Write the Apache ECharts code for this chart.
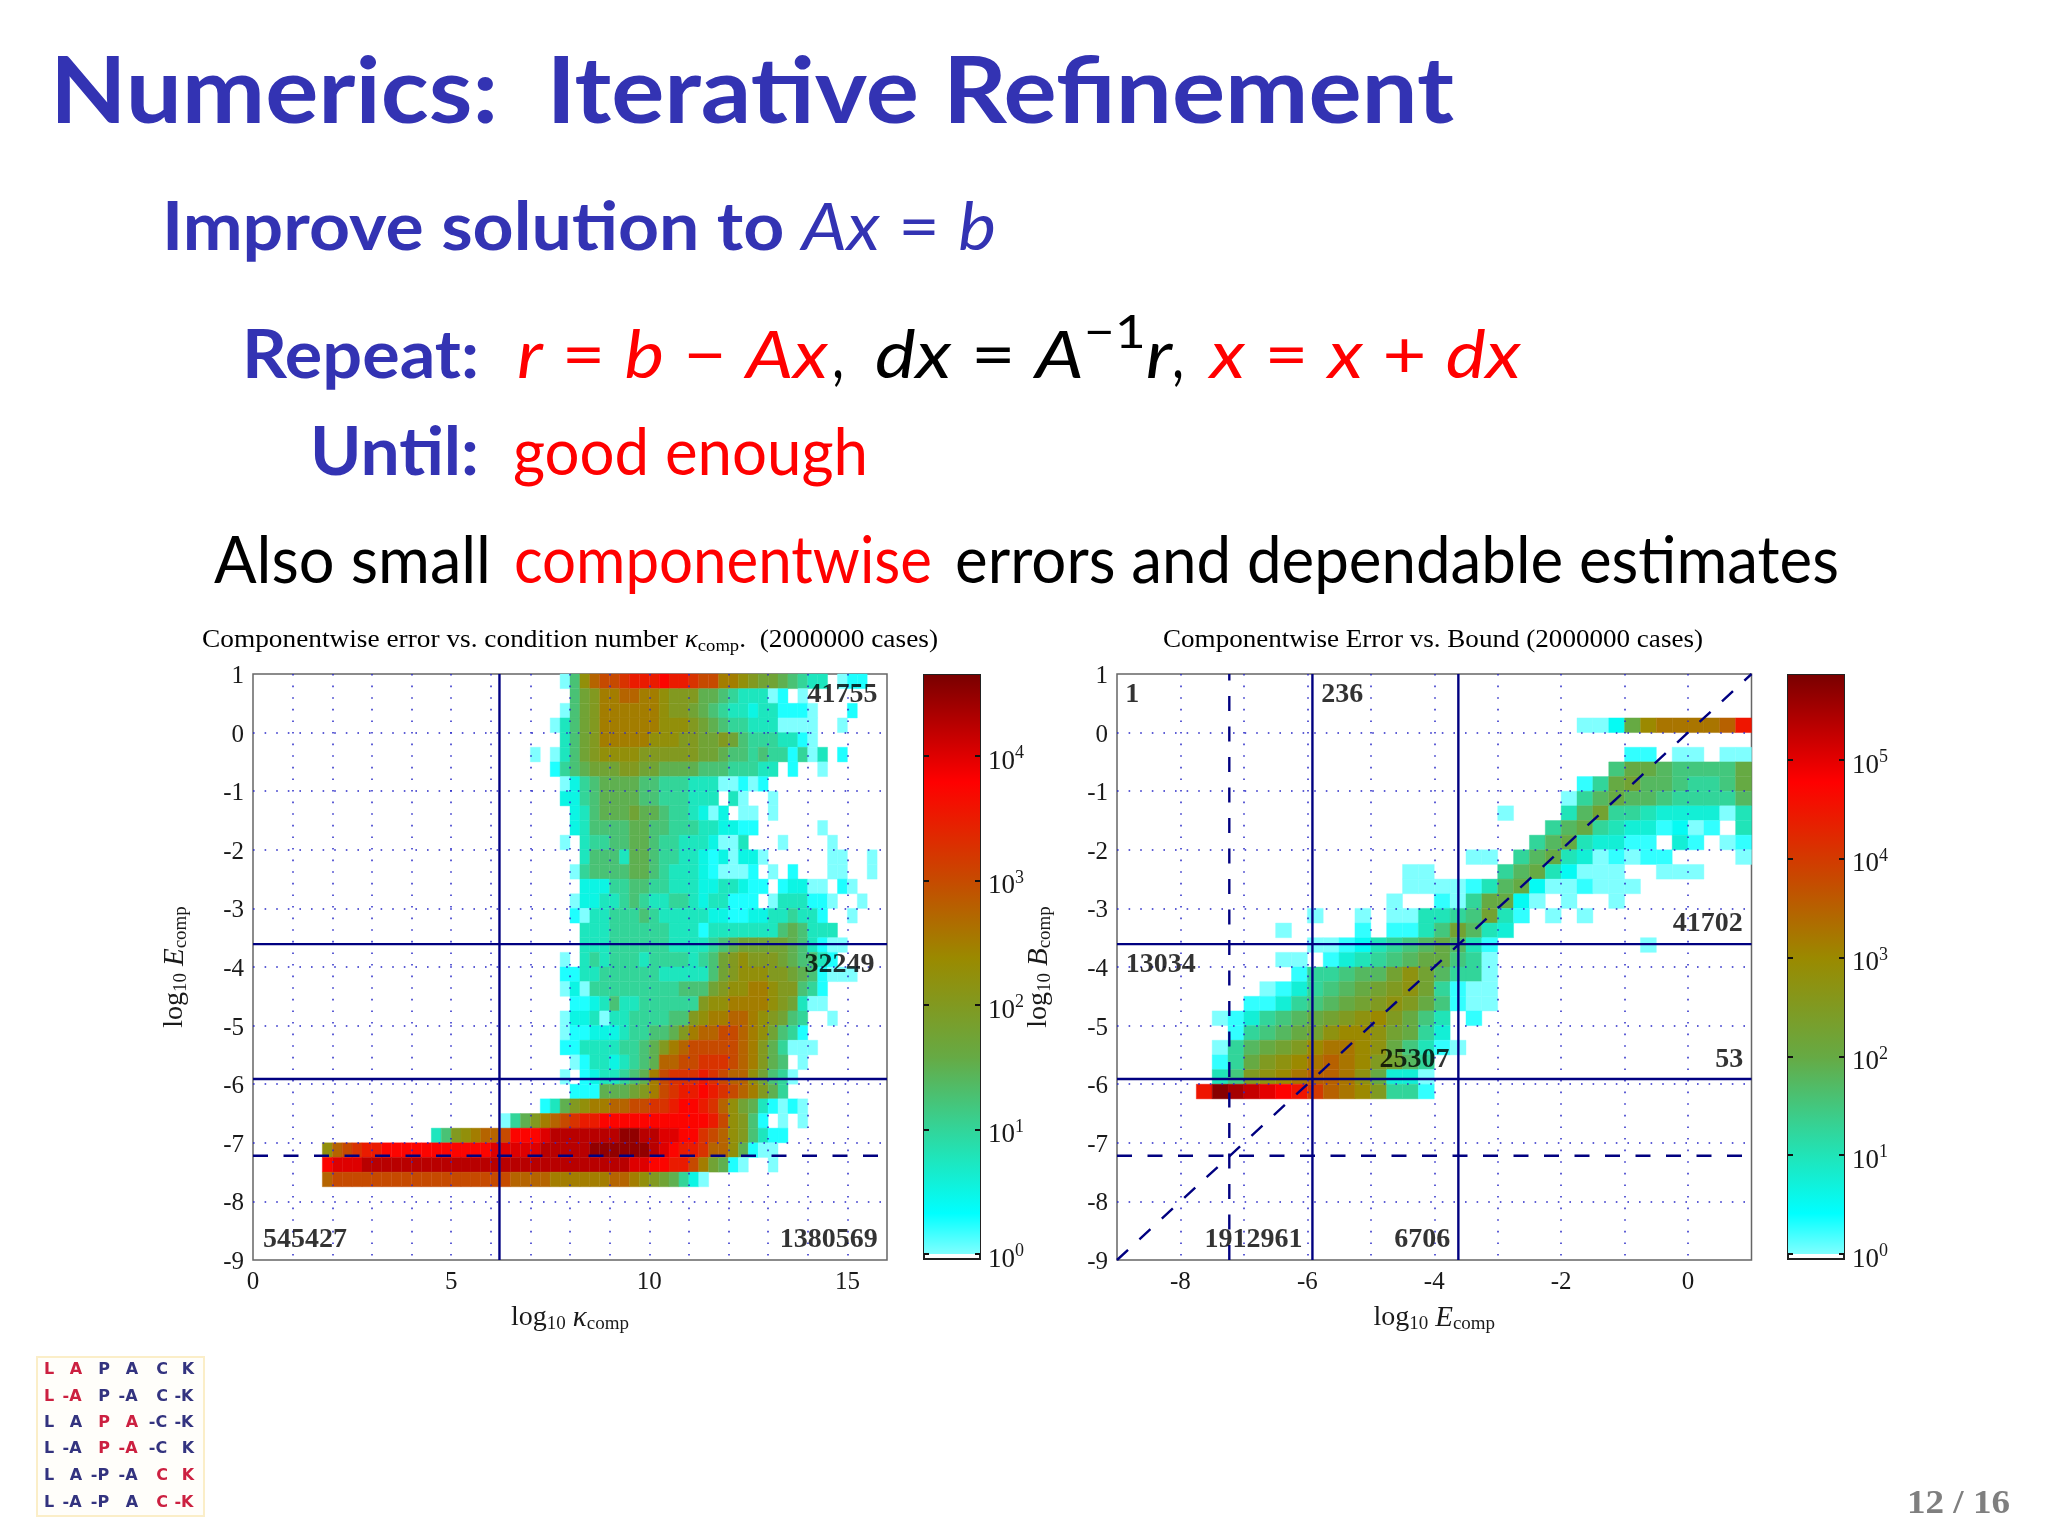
<!DOCTYPE html>
<html>
<head>
<meta charset="utf-8">
<title>Numerics: Iterative Refinement</title>
<script src="https://cdn.jsdelivr.net/npm/echarts@6/dist/echarts.min.js"></script>
<style>
  html, body { margin: 0; padding: 0; background: #fff; }
  #chart-container { width: 2048px; height: 1536px; }
</style>
</head>
<body>
<div id="chart-container"></div>
<script>
// One character per histogram bin, level = log10(count) in quarter decades (base 36), '.' = empty bin.
// Index in the arrays is the row from the top of the plot.
const kappaFirstBin = [31,32,31,30,31,28,30,31,31,32,32,31,33,32,33,32,32,33,33,31,31,31,32,31,31,31,32,31,32,29,25,18,7,7,7];
const kappaLevels = [
  '059bccdeeefeedccaa987765433.011',
  '578aabbaa9888665433301.0',
  '0578aaaaaa9887654332331110...1',
  '03578aaaaaa9998765443330000..0',
  '3578aaaaa99988778754443310',
  '0.0357899998888887765545441403.1',
  '14567778877666655544433.1..0',
  '024566665544433300101',
  '2245666655444333.30..0',
  '2356667665443202.00.0',
  '2355556655444332211......0',
  '0.34455665443332003...0....0',
  '3555366544332120220......00..0',
  '0455556654333210001.0.1...00..0',
  '2224455443332233211.12200.10',
  '0223345433443233111.0333110..0',
  '10334445433333221122334331..0',
  '33344444433313333333565333',
  '333444444333345677777653100',
  '0.34344434444345789888765531',
  '113344444433333578999887651000',
  '0204444444445557899aa988541',
  '1123533444444899aaaa987300',
  '022303344445589aabba98754..0',
  '0112223445568abbccba97541',
  '11333344568abcccccba864000',
  '013323456bbccdddcba865.0',
  '0.1233456acdddedcbb97540',
  '11166678acdeefedcba864',
  '13689aabbccddeffedb97631010',
  '0468abcdeefffffffffffec9851.0.0',
  '3589abbcfffghhhhhhhiihhggffdcb985311',
  '9bcdeefffffffffffggggghhhhhiiiiiihgfeedbb96100',
  'fggghhhhhhhhhhhhhhhhhhhhhhhhhhhggffeeca7610..0',
  'bccccccccccccccccccbbbbaaaaaabba9876420'
];

const boundFirstBin = [null,null,null,29,null,32,31,29,28,24,27,26,22,18,18,17,12,10,12,10,11,9,8,6,7,6,6,6,5];
const boundLevels = [
  '', '', '',
  '0028cddddei',
  '',
  '11.00.00',
  '688766668',
  '15897765568',
  '057877655557',
  '0...479554333304',
  '57854331201.4',
  '57843311.31.01',
  '00.5784301011....0',
  '00....57842000..000',
  '000014782001000',
  '0..1058820.0..0',
  '0..0.004456941.0.0',
  '0....1.11469743',
  '001245678741.........0',
  '00.13456788650',
  '1556779b97550',
  '01356789ab95100',
  '11356789aba86100',
  '01356789abca864.1',
  '156789bccb9853',
  '05789acddcb86410',
  '158abcdedca975',
  '46abcdeedb8330',
  'inmlkjigedca551'
];

// Reference lines, in data units of each plot
const kappaV = 6.22;
const errorSolid = [-3.61, -5.91];
const errorDashed = -7.22;
const boundVSolid = [-5.92, -3.62];
const boundVDashed = -7.23;

// Corner counts: [x, y, text]
const kappaCounts = [[14.88, 0.64, '41755'], [14.8, -3.97, '32249'], [1.31, -8.65, '545427'], [14.53, -8.65, '1380569']];
const boundCounts = [[-8.76, 0.64, '1'], [-5.45, 0.64, '236'], [-8.31, -3.97, '13034'], [0.31, -3.27, '41702'],
  [-4.31, -5.58, '25307'], [0.65, -5.58, '53'], [-6.85, -8.65, '1912961'], [-4.19, -8.65, '6706']];

// Colour bars
const kappaBarMax = 4.65;
const boundBarMax = 5.86;
const kappaBarTicks = [0, 1, 2, 3, 4];
const boundBarTicks = [0, 1, 2, 3, 4, 5];

const logoRows = [
  ['L', 'A', 'P', 'A', 'C', 'K'],
  ['L', '-A', 'P', '-A', 'C', '-K'],
  ['L', 'A', 'P', 'A', '-C', '-K'],
  ['L', '-A', 'P', '-A', '-C', 'K'],
  ['L', 'A', '-P', '-A', 'C', 'K'],
  ['L', '-A', '-P', 'A', 'C', '-K']
];
const logoRedColumns = [[0, 1], [0, 1], [2, 3], [2, 3], [4, 5], [4, 5]];

const BLUE = '#3333b3';
const RED = '#ff0000';
const BLACK = '#000000';
const NAVY = '#000080';
const SANS = 'Lato';
const SERIF = '"Liberation Serif"';

const rampStops = [
  [0, '#80ffff'], [0.07, '#00ffff'], [0.17, '#20e4b8'], [0.34, '#66aa44'],
  [0.51, '#9a8a00'], [0.65, '#c84800'], [0.815, '#ff0000'], [1, '#7a0000']
];

function rampColor(t) {
    t = Math.min(1, Math.max(0, t));
    for (let i = 1; i < rampStops.length; i++) {
        if (t <= rampStops[i][0]) {
            const span = rampStops[i][0] - rampStops[i - 1][0];
            return echarts.color.lerp((t - rampStops[i - 1][0]) / span, [rampStops[i - 1][1], rampStops[i][1]]);
        }
    }
    return rampStops[rampStops.length - 1][1];
}

// turn the level strings into [x, y, log10 count] cells
function buildCells(firstBin, levels, xMin) {
    const cells = [];
    levels.forEach((row, r) => {
        for (let i = 0; i < row.length; i++) {
            if (row[i] === '.') continue;
            cells.push([xMin + (firstBin[r] + i) * 0.25, 1 - (r + 1) * 0.25, parseInt(row[i], 36) * 0.25]);
        }
    });
    return cells;
}

const measureCtx = document.createElement('canvas').getContext('2d');

// text line squeezed to the width it has on the slide
function textRuns(x, baseline, width, size, family, runs) {
    const fontOf = r => `${r.style || 'normal'} ${r.weight || 'normal'} ${r.size || size}px ${family}`;
    let total = 0;
    const widths = runs.map(r => {
        measureCtx.font = fontOf(r);
        const w = measureCtx.measureText(r.text).width;
        total += w;
        return w;
    });
    const scale = width / total;
    let cursor = x;
    return runs.map((r, i) => {
        const s = r.size || size;
        const el = {
            type: 'text',
            x: cursor,
            y: baseline + (r.dy || 0) - 0.32 * s,
            scaleX: scale,
            z: 10,
            style: {
                text: r.text,
                fill: r.color || BLACK,
                fontFamily: family.replace(/"/g, ''),
                fontSize: s,
                fontWeight: r.weight || 'normal',
                fontStyle: r.style || 'normal',
                textAlign: 'left',
                verticalAlign: 'middle'
            }
        };
        cursor += widths[i] * scale;
        return el;
    });
}

const slideText = [
    ...textRuns(50, 123, 1404, 92, SANS, [{ text: 'Numerics:  Iterative Refinement', color: BLUE, weight: 'bold' }]),
    ...textRuns(162, 250, 834, 66, SANS, [
        { text: 'Improve solution to ', color: BLUE, weight: 'bold' },
        { text: 'Ax', color: BLUE, style: 'italic' },
        { text: ' = ', color: BLUE },
        { text: 'b', color: BLUE, style: 'italic' }
    ]),
    ...textRuns(242, 378, 237, 66, SANS, [{ text: 'Repeat:', color: BLUE, weight: 'bold' }]),
    ...textRuns(517, 378, 311, 66, SANS, [
        { text: 'r', color: RED, style: 'italic' },
        { text: ' = ', color: RED },
        { text: 'b', color: RED, style: 'italic' },
        { text: ' \u2212 ', color: RED },
        { text: 'Ax', color: RED, style: 'italic' }
    ]),
    ...textRuns(832, 378, 12, 66, SANS, [{ text: ',' }]),
    ...textRuns(875, 378, 297, 66, SANS, [
        { text: 'dx', style: 'italic' },
        { text: ' = ' },
        { text: 'A', style: 'italic' },
        { text: '\u22121', size: 46, dy: -30 },
        { text: 'r', style: 'italic' }
    ]),
    ...textRuns(1172, 378, 12, 66, SANS, [{ text: ',' }]),
    ...textRuns(1210, 378, 311, 66, SANS, [
        { text: 'x', color: RED, style: 'italic' },
        { text: ' = ', color: RED },
        { text: 'x', color: RED, style: 'italic' },
        { text: ' + ', color: RED },
        { text: 'dx', color: RED, style: 'italic' }
    ]),
    ...textRuns(310, 475, 169, 66, SANS, [{ text: 'Until:', color: BLUE, weight: 'bold' }]),
    ...textRuns(513, 475, 355, 66, SANS, [{ text: 'good enough', color: RED }]),
    ...textRuns(214, 583, 277, 66, SANS, [{ text: 'Also small' }]),
    ...textRuns(514, 583, 418, 66, SANS, [{ text: 'componentwise', color: RED }]),
    ...textRuns(955, 583, 884, 66, SANS, [{ text: 'errors and dependable estimates' }]),
    ...textRuns(202, 648, 736, 25, SERIF, [
        { text: 'Componentwise error vs. condition number ' },
        { text: '\u03ba', style: 'italic' },
        { text: 'comp', size: 17, dy: 4 },
        { text: '.  (2000000 cases)' }
    ]),
    ...textRuns(1163, 648, 540, 25, SERIF, [{ text: 'Componentwise Error vs. Bound (2000000 cases)' }]),
    ...textRuns(1907, 1515, 103, 34, SERIF, [{ text: '12 / 16', color: '#7f7f7f', weight: 'bold' }])
];

const logoColumnX = [49, 76, 104, 132, 162, 188];
const logoRowY = [1370, 1397, 1423, 1449, 1476, 1503];
const logoGraphics = [{
    type: 'rect', z: 9,
    shape: { x: 37, y: 1357, width: 167, height: 159 },
    style: { fill: '#fffefa', stroke: '#fbeec8', lineWidth: 2 }
}];
logoRows.forEach((row, r) => {
    row.forEach((letter, c) => {
        logoGraphics.push({
            type: 'text', z: 10,
            x: logoColumnX[c] + (letter.length > 1 ? -4 : 0),
            y: logoRowY[r],
            style: {
                text: letter,
                fill: logoRedColumns[r].includes(c) ? '#cc2040' : '#33337f',
                fontFamily: 'DejaVu Sans',
                fontWeight: 'bold',
                fontSize: 16,
                textAlign: 'center',
                verticalAlign: 'middle'
            }
        });
    });
});

const tickFont = { color: '#1a1a1a', fontFamily: 'Liberation Serif', fontSize: 25 };
const dotted = { color: '#2a2ac8', width: 1.5, type: [1.6, 10] };

const axisNameStyle = {
    color: '#1a1a1a', fontFamily: 'Liberation Serif', fontSize: 28,
    rich: {
        t: { fontFamily: 'Liberation Serif', fontSize: 28, color: '#1a1a1a' },
        i: { fontFamily: 'Liberation Serif', fontSize: 29, fontStyle: 'italic', color: '#1a1a1a' },
        s: { fontFamily: 'Liberation Serif', fontSize: 19, color: '#1a1a1a', padding: [13, 0, 0, 0] }
    }
};

function plotXAxis(gridIndex, min, max, labelEvery, rich) {
    return {
        type: 'value', gridIndex, min, max, interval: 1, z: 3,
        axisLine: { show: false },
        axisTick: { show: false },
        splitLine: { show: true, showMinLine: false, showMaxLine: false, lineStyle: dotted },
        axisLabel: {
            ...tickFont, margin: 10, showMinLabel: true,
            formatter: v => (v % labelEvery === 0 ? String(v) : '')
        },
        name: rich, nameLocation: 'middle', nameGap: 42,
        nameTextStyle: axisNameStyle
    };
}

function plotYAxis(gridIndex, rich, nameGap) {
    return {
        type: 'value', gridIndex, min: -9, max: 1, interval: 1, z: 3,
        axisLine: { show: false },
        axisTick: { show: false },
        splitLine: { show: true, showMinLine: false, showMaxLine: false, lineStyle: dotted },
        axisLabel: {
            margin: 9,
            formatter: v => `{n|${v}}`,
            rich: { n: { ...tickFont, padding: [5, 0, 0, 0] } }
        },
        name: rich, nameLocation: 'middle', nameGap, nameRotate: 90,
        nameTextStyle: axisNameStyle
    };
}

function barYAxis(gridIndex, max, ticks, min, position, showLabels) {
    return {
        type: 'value', gridIndex, min, max, position, z: 3,
        axisLine: { show: false },
        splitLine: { show: false },
        axisTick: { show: true, inside: true, length: 5, customValues: ticks, lineStyle: { color: '#111', width: 2 } },
        axisLabel: {
            show: showLabels, customValues: ticks, margin: 8, color: '#1a1a1a', padding: [11, 0, 0, 0],
            formatter: v => `{b|10}{u|${v}}`,
            rich: {
                b: { fontFamily: 'Liberation Serif', fontSize: 27, color: '#1a1a1a' },
                u: { fontFamily: 'Liberation Serif', fontSize: 18, color: '#1a1a1a', padding: [0, 0, 16, 0] }
            }
        }
    };
}

function barXAxis(gridIndex) {
    return { type: 'category', gridIndex, data: ['count'], show: false };
}

function gradientOf() {
    return new echarts.graphic.LinearGradient(0, 1, 0, 0,
        rampStops.map(s => ({ offset: s[0], color: s[1] })));
}

function cellSeries(axisIndex, cells, max) {
    return {
        type: 'custom', xAxisIndex: axisIndex, yAxisIndex: axisIndex, z: 2, silent: true,
        data: cells,
        encode: { x: 0, y: 1 },
        renderItem: (params, api) => {
            const p0 = api.coord([api.value(0), api.value(1)]);
            const p1 = api.coord([api.value(0) + 0.25, api.value(1) + 0.25]);
            const fill = rampColor(api.value(2) / max);
            return {
                type: 'rect',
                shape: { x: p0[0], y: p1[1], width: p1[0] - p0[0], height: p0[1] - p1[1] },
                style: { fill, stroke: fill, lineWidth: 0.4 }
            };
        }
    };
}

function refLine(axisIndex, data, dashed) {
    return {
        type: 'line', xAxisIndex: axisIndex, yAxisIndex: axisIndex, z: 4, silent: true,
        data, symbol: 'none',
        lineStyle: { color: NAVY, width: 2.4, type: dashed ? [15, 15.5] : 'solid' }
    };
}

function countSeries(axisIndex, counts) {
    return {
        type: 'scatter', xAxisIndex: axisIndex, yAxisIndex: axisIndex, z: 6, silent: true,
        data: counts, symbolSize: 1,
        itemStyle: { color: 'transparent' },
        label: {
            show: true, position: 'inside',
            formatter: p => p.value[2],
            color: '#000', fontFamily: 'Liberation Serif', fontWeight: 'bold', fontSize: 28
        }
    };
}

function barSeries(xIndex, yIndex, max) {
    return {
        type: 'bar', xAxisIndex: xIndex, yAxisIndex: yIndex, silent: true, z: 2,
        data: [max], barWidth: '100%',
        itemStyle: { color: gradientOf() }
    };
}

const chartContainer = document.getElementById('chart-container');
const myChart = echarts.init(chartContainer);

const frame = { show: true, borderColor: '#666666', borderWidth: 1.5, backgroundColor: '#fff' };
const barFrame = { show: true, borderColor: '#222222', borderWidth: 2 };

myChart.setOption({
    animation: false,
    backgroundColor: '#ffffff',
    graphic: { elements: [...slideText, ...logoGraphics] },
    grid: [
        { left: 253, top: 674, width: 634, height: 586, ...frame },
        { left: 1117, top: 674, width: 634.5, height: 586, ...frame },
        { left: 924, top: 675, width: 56, height: 584, ...barFrame },
        { left: 1788, top: 675, width: 56, height: 584, ...barFrame }
    ],
    xAxis: [
        plotXAxis(0, 0, 16, 5, '{t|log}{s|10} {i|\u03ba}{s|comp}'),
        plotXAxis(1, -9, 1, 2, '{t|log}{s|10} {i|E}{s|comp}'),
        barXAxis(2),
        barXAxis(2),
        barXAxis(3),
        barXAxis(3)
    ],
    yAxis: [
        plotYAxis(0, '{t|log}{s|10} {i|E}{s|comp}', 62),
        plotYAxis(1, '{t|log}{s|10} {i|B}{s|comp}', 62),
        barYAxis(2, kappaBarMax, kappaBarTicks, -0.04, 'right', true),
        barYAxis(2, kappaBarMax, kappaBarTicks, -0.04, 'left', false),
        barYAxis(3, boundBarMax, boundBarTicks, -0.05, 'right', true),
        barYAxis(3, boundBarMax, boundBarTicks, -0.05, 'left', false)
    ],
    series: [
        cellSeries(0, buildCells(kappaFirstBin, kappaLevels, 0), kappaBarMax),
        cellSeries(1, buildCells(boundFirstBin, boundLevels, -9), boundBarMax),

        refLine(0, [[kappaV, -9], [kappaV, 1]], false),
        refLine(0, [[0, errorSolid[0]], [16, errorSolid[0]]], false),
        refLine(0, [[0, errorSolid[1]], [16, errorSolid[1]]], false),
        refLine(0, [[0, errorDashed], [16, errorDashed]], true),

        refLine(1, [[boundVSolid[0], -9], [boundVSolid[0], 1]], false),
        refLine(1, [[boundVSolid[1], -9], [boundVSolid[1], 1]], false),
        refLine(1, [[boundVDashed, -9], [boundVDashed, 1]], true),
        refLine(1, [[-9, errorSolid[0]], [1, errorSolid[0]]], false),
        refLine(1, [[-9, errorSolid[1]], [1, errorSolid[1]]], false),
        refLine(1, [[-9, errorDashed], [1, errorDashed]], true),
        refLine(1, [[-9, -9], [1, 1]], true),

        countSeries(0, kappaCounts),
        countSeries(1, boundCounts),

        barSeries(2, 2, kappaBarMax),
        barSeries(4, 4, boundBarMax)
    ]
});
</script>
</body>
</html>
